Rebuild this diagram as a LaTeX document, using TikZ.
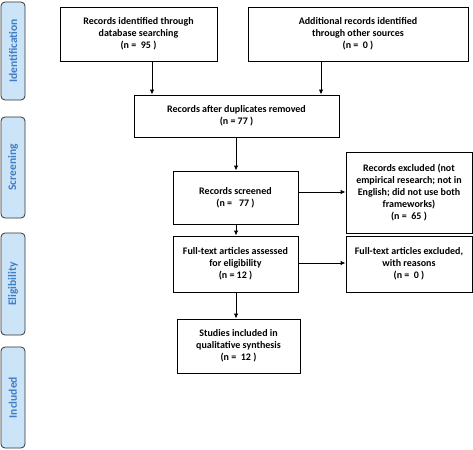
\documentclass[tikz,border=0pt]{standalone}
\usepackage{fontspec}
\setmainfont{Carlito}
\usetikzlibrary{arrows.meta}
\definecolor{sidefill}{HTML}{CCE4F8}
\definecolor{sidetext}{HTML}{3F7DC4}
\begin{document}
\begin{tikzpicture}[x=1pt,y=-1pt,
  box/.style={draw=black,line width=0.9pt,fill=white,align=center,inner sep=1pt,
    font=\bfseries\fontsize{10}{12}\selectfont},
  side/.style={draw=black!80,line width=0.8pt,fill=sidefill,rounded corners=4pt,
    rotate=90,align=center,inner sep=0pt,text=sidetext,
    font=\bfseries\fontsize{11.5}{13}\selectfont},
  arr/.style={line width=0.9pt,-{Latex[length=5pt,width=4.5pt]}}]
\useasboundingbox (0,0) rectangle (473,449);
% side labels
\node[side,minimum width=98pt,minimum height=24pt] (sid) at (13,51) {Identification};
\node[side,minimum width=101pt,minimum height=24pt] (ssc) at (13,167.5) {Screening};
\node[side,minimum width=102pt,minimum height=24pt] (sel) at (13,284) {Eligibility};
\node[side,minimum width=101pt,minimum height=24pt] (sin) at (13,397.5) {Included};
% boxes
\node[box,minimum width=157pt,minimum height=54pt] (b1) at (138.5,34) {Records identified through\\database searching\\(n =~ 95 )};
\node[box,minimum width=220pt,minimum height=54pt] (b2) at (358,34) {Additional records identified\\through other sources\\(n =~ 0 )};
\node[box,minimum width=205pt,minimum height=42pt] (b3) at (236.5,116) {Records after duplicates removed\\(n = 77 )};
\node[box,minimum width=125pt,minimum height=53pt] (b4) at (235.5,197.5) {Records screened\\(n =~~ 77 )};
\node[box,minimum width=126pt,minimum height=81pt] (b5) at (409,192.5) {Records excluded (not\\empirical research; not in\\English; did not use both\\frameworks)\\(n =~ 65 )};
\node[box,minimum width=125pt,minimum height=56pt] (b6) at (235.5,264) {Full-text articles assessed\\for eligibility\\(n = 12 )};
\node[box,minimum width=126pt,minimum height=56pt] (b7) at (409,264) {Full-text articles excluded,\\with reasons\\(n =~ 0 )};
\node[box,minimum width=123pt,minimum height=54pt] (b8) at (238.5,346) {Studies included in\\qualitative synthesis\\(n =~ 12 )};
% guide coordinates
\coordinate (c1) at (152,0);
\coordinate (c2) at (321,0);
\coordinate (c3) at (236,0);
\coordinate (c4) at (0,192);
\coordinate (c5) at (0,263);
% connectors
\draw[arr] (b1.south -| c1) -- (b3.north -| c1);
\draw[arr] (b2.south -| c2) -- (b3.north -| c2);
\draw[arr] (b3.south -| c3) -- (b4.north -| c3);
\draw[arr] (b4.east |- c4) -- (b5.west |- c4);
\draw[arr] (b4.south -| c3) -- (b6.north -| c3);
\draw[arr] (b6.east |- c5) -- (b7.west |- c5);
\draw[arr] (b6.south -| c3) -- (b8.north -| c3);
\end{tikzpicture}
\end{document}
